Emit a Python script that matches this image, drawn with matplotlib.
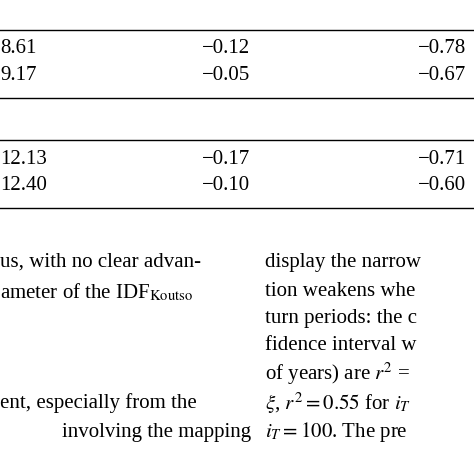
import matplotlib.pyplot as plt

plt.rcParams['font.family'] = ['Liberation Serif', 'DejaVu Serif']
plt.rcParams['mathtext.fontset'] = 'stix'

# table values (cropped page)
col1 = ["8.61", "9.17", "12.13", "12.40"]
col2 = ["\u22120.12", "\u22120.05", "\u22120.17", "\u22120.10"]
col3 = ["\u22120.78", "\u22120.67", "\u22120.71", "\u22120.60"]
row_y = [48, 75, 160, 186]
rule_y = [30, 98, 140, 208]

left_lines = [
    (262, 0, "us, with no clear advan-"),
    (292, 0, r"ameter of the IDF$_{\mathrm{Koutso}}$"),
    (403, 0, "ent, especially from the"),
    (432, 62, "involving the mapping"),
]
right_lines = [
    (262, "display the narrow"),
    (292, "tion weakens whe"),
    (318, "turn periods: the c"),
    (345, "fidence interval w"),
    (374, r"of years) are $r^2$ ="),
    (403, r"$\xi$, $r^2 = 0.55$ for $i_T$"),
    (432, r"$i_T = 100$. The pre"),
]

fig = plt.figure(figsize=(4.74, 4.74), dpi=100)
ax = fig.add_axes([0, 0, 1, 1])
ax.set_xlim(0, 474)
ax.set_ylim(474, 0)
ax.axis('off')

fs = 15
for y in rule_y:
    ax.plot([0, 474], [y, y], color='black', lw=1)
for y, a, b, c in zip(row_y, col1, col2, col3):
    ax.text(0, y, a, fontsize=fs, va='center', ha='left')
    ax.text(250, y, b, fontsize=fs, va='center', ha='right')
    ax.text(466, y, c, fontsize=fs, va='center', ha='right')
for y, x, s in left_lines:
    ax.text(x, y, s, fontsize=fs, va='center', ha='left')
for y, s in right_lines:
    ax.text(265, y, s, fontsize=fs, va='center', ha='left', clip_on=True)

fig.savefig('out.png', dpi=100)
